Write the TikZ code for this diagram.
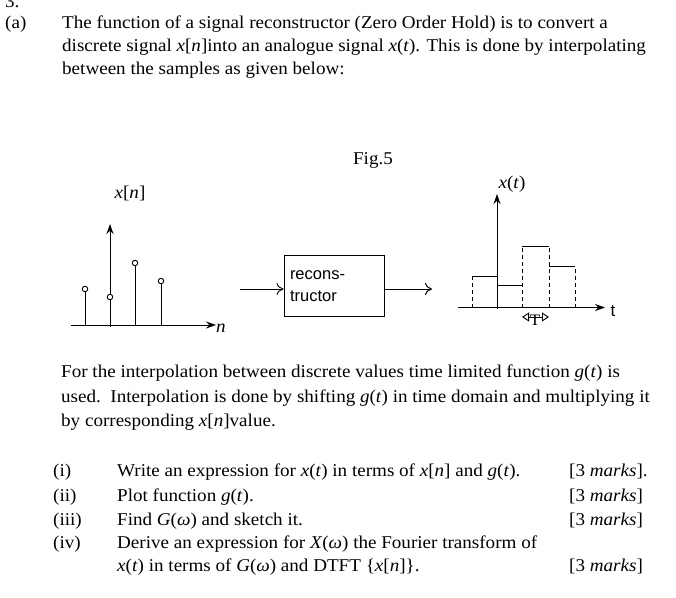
\documentclass[tikz,border=0pt]{standalone}
\usepackage{fontspec}
\setmainfont[FakeStretch=1.06]{Liberation Serif}
\setsansfont{Liberation Sans}
\usetikzlibrary{arrows.meta}
\begin{document}
\begin{tikzpicture}[x=1pt,y=-1pt,
  txt/.style={anchor=base west,inner sep=0pt,font=\fontsize{18}{20}\selectfont},
  ax/.style={line width=1pt,-{Stealth[length=10pt,width=7pt]}},
  stem/.style={line width=1pt},
  dot/.style={circle,draw,line width=0.9pt,inner sep=0pt,minimum size=5.5pt,fill=white},
  dsh/.style={line width=1pt,dash pattern=on 4pt off 3pt},
  lbl/.style={inner sep=0pt,font=\fontsize{18}{20}\selectfont}]
\useasboundingbox (0,0) rectangle (676,597);
\newcommand{\mi}[1]{\textit{#1}}
% top text
\node[txt] (t0) at (5,7) {3.};
\node[txt] (ta) at (5,28) {(a)};
\node[txt] (l1) at (62,28) {The function of a signal reconstructor (Zero Order Hold) is to convert a};
\node[txt] (l2) at (62,51) {discrete signal \mi{x}[\mi{n}]into an analogue signal \mi{x}(\mi{t}). This is done by interpolating};
\node[txt] (l3) at (62,74) {between the samples as given below:};
\node[lbl] (fig) at (373,160) {Fig.5};
% left plot
\draw[ax] (71,325) -- (216,325);
\draw[ax] (110,327) -- (110,224);
\foreach \xx/\yy [count=\i] in {85/289,110/297,135/263,161/281}{
  \draw[stem] (\xx,325) -- (\xx,\yy);
  \node[dot] (s\i) at (\xx,\yy) {};
}
\node[lbl] (xn) at (130,193) {\mi{x}[\mi{n}]};
\node[lbl] (nn) at (221,328) {\mi{n}};
% box
\node[draw,line width=1pt,minimum width=100pt,minimum height=61pt,inner sep=0pt,
  text width=88pt,font=\sffamily\fontsize{16.5}{22}\selectfont,align=left] (rec) at (334,286) {recons-\\tructor};
\coordinate (inA) at (240,289);
\draw[line width=0.9pt,-{To[length=7pt,width=12pt]}] (inA) -- (rec.west |- inA);
\coordinate (outB) at (432,289);
\draw[line width=1pt,-{To[length=7pt,width=12pt]}] (rec.east |- outB) -- (outB);
% right plot
\draw[ax] (458,307.5) -- (605,307.5);
\draw[ax] (497,309) -- (497,194);
\node[lbl] (xt) at (512,184) {\mi{x}(\mi{t})};
\node[font=\sffamily\fontsize{17}{18}\selectfont,inner sep=0pt] (tt) at (613,311) {t};
\draw[line width=0.9pt] (472,276) -- (497,276);
\draw[line width=0.9pt] (497,285) -- (522,285);
\draw[line width=0.9pt] (522,246) -- (549,246);
\draw[line width=0.9pt] (549,266) -- (575,266);
\draw[dsh] (472,307.5) -- (472,276);
\draw[dsh] (522,307.5) -- (522,246);
\draw[dsh] (549,307.5) -- (549,246);
\draw[dsh] (575,307.5) -- (575,266);
\draw[line width=0.9pt,{Triangle[open,length=7pt,width=9pt]}-{Triangle[open,length=7pt,width=9pt]}] (522,317) -- (549,317);
\node[font=\fontsize{16}{16}\selectfont,inner sep=0pt] (T) at (535,320) {T};
% middle text
\node[txt] (m1) at (61,377) {For the interpolation between discrete values time limited function \mi{g}(\mi{t}) is};
\node[txt] (m2) at (61,402) {used.\ \ Interpolation is done by shifting \mi{g}(\mi{t}) in time domain and multiplying it};
\node[txt] (m3) at (61,426) {by corresponding \mi{x}[\mi{n}]value.};
% list
\foreach \yy/\lab/\body/\mk [count=\i] in {
  476/(i)/{Write an expression for \mi{x}(\mi{t}) in terms of \mi{x}[\mi{n}] and \mi{g}(\mi{t}).}/{[3 \mi{marks}].},
  501/(ii)/{Plot function \mi{g}(\mi{t}).}/{[3 \mi{marks}]},
  525/(iii)/{Find \mi{G}(\mi{ω}) and sketch it.}/{[3 \mi{marks}]},
  548/(iv)/{Derive an expression for \mi{X}(\mi{ω}) the Fourier transform of}/{}}{
  \node[txt] (li\i) at (53,\yy) {\lab};
  \node[txt] (lb\i) at (117,\yy) {\body};
  \node[txt] (lm\i) at (569,\yy) {\mk};
}
\node[txt] (lb5) at (117,571) {\mi{x}(\mi{t}) in terms of \mi{G}(\mi{ω}) and DTFT \{\mi{x}[\mi{n}]\}.};
\node[txt] (lm5) at (569,571) {[3 \mi{marks}]};
\end{tikzpicture}
\end{document}
